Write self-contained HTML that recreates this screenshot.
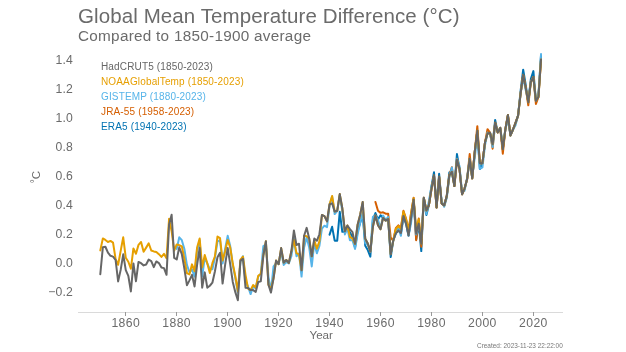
<!DOCTYPE html>
<html><head><meta charset="utf-8"><style>
html,body{margin:0;padding:0;background:#fff;}
body{width:626px;height:352px;position:relative;overflow:hidden;font-family:"Liberation Sans",sans-serif;color:#666;}
#w{position:absolute;left:0;top:0;width:626px;height:352px;will-change:transform;}
.t{position:absolute;left:78px;top:4px;font-size:20.5px;color:#6b6b6b;white-space:nowrap;letter-spacing:0.1px;}
.st{position:absolute;left:78px;top:27.2px;font-size:15.3px;letter-spacing:0.27px;color:#6b6b6b;white-space:nowrap;}
.yl{position:absolute;left:30px;width:43px;text-align:right;font-size:12.2px;line-height:14px;color:#6b6b6b;letter-spacing:0.2px;}
.xl{position:absolute;top:316px;width:40px;text-align:center;font-size:12.2px;line-height:14px;color:#6b6b6b;letter-spacing:0.4px;}
.xt{position:absolute;top:312px;width:1px;height:4px;background:#999;}
.ax{position:absolute;left:78px;top:312px;width:485px;height:1px;background:#dadada;}
.yt{position:absolute;left:25.2px;top:170px;width:20px;height:14px;font-size:11.6px;line-height:14px;color:#6b6b6b;transform:rotate(-90deg);text-align:center;}
.xtitle{position:absolute;left:309.5px;top:328px;font-size:11.6px;color:#6b6b6b;}
.cr{position:absolute;left:477px;top:342px;font-size:6.45px;color:#777;white-space:nowrap;}
.lg{position:absolute;left:101px;font-size:10px;line-height:13px;letter-spacing:0.15px;white-space:nowrap;}
svg{position:absolute;left:0;top:0;}
svg path{fill:none;stroke-width:2;stroke-linejoin:round;stroke-linecap:round;}
</style></head><body><div id="w">
<div class="t">Global Mean Temperature Difference (°C)</div>
<div class="st">Compared to 1850-1900 average</div>
<div class="yl" style="top:285.3px">−0.2</div>
<div class="yl" style="top:256.2px">0.0</div>
<div class="yl" style="top:227.1px">0.2</div>
<div class="yl" style="top:198.0px">0.4</div>
<div class="yl" style="top:168.9px">0.6</div>
<div class="yl" style="top:139.8px">0.8</div>
<div class="yl" style="top:110.7px">1.0</div>
<div class="yl" style="top:81.6px">1.2</div>
<div class="yl" style="top:52.5px">1.4</div>

<div class="yt"><span style="font-size:10px;vertical-align:1.5px">°</span>C</div>
<div class="ax"></div>
<div class="xl" style="left:105.8px">1860</div>
<div class="xt" style="left:125.3px"></div>
<div class="xl" style="left:156.7px">1880</div>
<div class="xt" style="left:176.2px"></div>
<div class="xl" style="left:207.7px">1900</div>
<div class="xt" style="left:227.2px"></div>
<div class="xl" style="left:258.6px">1920</div>
<div class="xt" style="left:278.1px"></div>
<div class="xl" style="left:309.6px">1940</div>
<div class="xt" style="left:329.1px"></div>
<div class="xl" style="left:360.5px">1960</div>
<div class="xt" style="left:380.0px"></div>
<div class="xl" style="left:411.5px">1980</div>
<div class="xt" style="left:431.0px"></div>
<div class="xl" style="left:462.4px">2000</div>
<div class="xt" style="left:481.9px"></div>
<div class="xl" style="left:513.4px">2020</div>
<div class="xt" style="left:532.9px"></div>

<div class="xtitle">Year</div>
<div class="cr">Created: 2023-11-23 22:22:00</div>
<div class="lg" style="top:60px;color:#666666">HadCRUT5 (1850-2023)</div>
<div class="lg" style="top:74.8px;color:#E69F00">NOAAGlobalTemp (1850-2023)</div>
<div class="lg" style="top:89.5px;color:#56B4E9">GISTEMP (1880-2023)</div>
<div class="lg" style="top:104.9px;color:#D55E00">JRA-55 (1958-2023)</div>
<div class="lg" style="top:119.6px;color:#0072B2">ERA5 (1940-2023)</div>
<svg width="626" height="352" viewBox="0 0 626 352">
<path d="M329.57,234.68 L332.12,226.82 L334.67,240.65 L337.22,240.65 L339.76,211.84 L342.31,231.77 L344.86,231.77 L347.41,226.82 L349.95,232.64 L352.50,236.72 L355.05,247.63 L357.60,231.19 L360.14,222.90 L362.69,215.19 L365.24,245.74 L367.79,250.10 L370.33,256.65 L372.88,219.55 L375.43,213.00 L377.98,219.55 L380.52,215.19 L383.07,217.95 L385.62,220.57 L388.17,219.11 L390.71,257.09 L393.26,240.50 L395.81,233.37 L398.36,230.46 L400.90,233.08 L403.45,215.91 L406.00,223.62 L408.55,235.55 L411.09,217.95 L413.64,199.62 L416.19,239.48 L418.74,223.62 L421.28,251.12 L423.83,197.87 L426.38,214.89 L428.93,205.00 L431.48,186.08 L434.02,172.26 L436.57,207.47 L439.12,173.72 L441.67,203.40 L444.21,205.44 L446.76,196.12 L449.31,172.55 L451.86,171.83 L454.40,186.08 L456.95,154.07 L459.50,168.77 L462.05,194.23 L464.59,188.56 L467.14,179.10 L469.69,158.73 L472.24,178.37 L474.78,151.60 L477.33,130.50 L479.88,169.06 L482.43,163.24 L484.97,142.58 L487.52,133.56 L490.07,132.83 L492.62,144.33 L495.16,119.88 L497.71,132.40 L500.26,127.88 L502.81,149.27 L505.35,129.49 L507.90,115.08 L510.45,135.45 L513.00,129.49 L515.54,122.79 L518.09,115.66 L520.64,90.49 L523.18,69.68 L525.73,84.96 L528.28,102.42 L530.83,79.14 L533.38,71.14 L535.92,100.97 L538.47,95.44 L541.02,55.43" stroke="#0072B2"/>
<path d="M375.43,201.94 L377.98,210.82 L380.52,212.86 L383.07,212.27 L385.62,213.73 L388.17,213.73 L390.71,237.74 L393.26,240.50 L395.81,228.28 L398.36,225.37 L400.90,227.99 L403.45,210.82 L406.00,218.53 L408.55,230.46 L411.09,212.86 L413.64,197.72 L416.19,240.21 L418.74,218.53 L421.28,246.76 L423.83,197.87 L426.38,210.53 L428.93,205.00 L431.48,189.00 L434.02,175.61 L436.57,207.47 L439.12,176.63 L441.67,203.40 L444.21,205.44 L446.76,196.12 L449.31,175.46 L451.86,167.17 L454.40,186.08 L456.95,159.60 L459.50,168.77 L462.05,194.23 L464.59,188.56 L467.14,179.10 L469.69,154.07 L472.24,178.37 L474.78,151.60 L477.33,126.14 L479.88,163.24 L482.43,163.24 L484.97,142.58 L487.52,129.19 L490.07,132.83 L492.62,148.69 L495.16,122.79 L497.71,132.40 L500.26,127.88 L502.81,153.64 L505.35,129.49 L507.90,115.08 L510.45,135.45 L513.00,129.49 L515.54,122.79 L518.09,115.66 L520.64,93.40 L523.18,75.50 L525.73,87.87 L528.28,105.33 L530.83,82.05 L533.38,76.96 L535.92,103.88 L538.47,96.89 L541.02,59.50" stroke="#D55E00"/>
<path d="M176.72,248.94 L179.27,237.30 L181.82,240.21 L184.37,248.94 L186.91,264.95 L189.46,272.22 L192.01,269.31 L194.56,276.59 L197.10,250.40 L199.65,240.21 L202.20,276.59 L204.75,257.67 L207.29,263.49 L209.84,269.31 L212.39,269.31 L214.94,257.67 L217.48,241.67 L220.03,240.21 L222.58,263.49 L225.13,248.94 L227.68,235.85 L230.22,246.03 L232.77,264.95 L235.32,278.04 L237.87,292.59 L240.41,262.04 L242.96,256.22 L245.51,280.95 L248.06,286.77 L250.60,294.05 L253.15,286.77 L255.70,288.23 L258.25,276.59 L260.79,273.68 L263.34,246.03 L265.89,244.58 L268.44,276.59 L270.98,291.14 L273.53,266.40 L276.08,263.49 L278.62,263.49 L281.17,251.85 L283.72,264.95 L286.27,262.04 L288.81,263.49 L291.36,256.22 L293.91,238.76 L296.46,256.22 L299.00,253.31 L301.55,276.59 L304.10,247.49 L306.65,237.30 L309.19,247.49 L311.74,266.40 L314.29,243.12 L316.84,253.31 L319.38,246.03 L321.93,228.57 L324.48,225.66 L327.03,227.12 L329.57,205.29 L332.12,196.56 L334.67,214.02 L337.22,211.11 L339.76,195.11 L342.31,211.11 L344.86,234.39 L347.41,228.57 L349.95,240.21 L352.50,240.21 L355.05,248.94 L357.60,234.39 L360.14,222.75 L362.69,212.57 L365.24,243.12 L367.79,244.58 L370.33,251.85 L372.88,216.93 L375.43,215.48 L377.98,219.84 L380.52,228.57 L383.07,215.48 L385.62,219.84 L388.17,216.93 L390.71,253.31 L393.26,240.21 L395.81,232.94 L398.36,227.12 L400.90,235.85 L403.45,216.93 L406.00,219.84 L408.55,235.85 L411.09,222.75 L413.64,200.93 L416.19,234.39 L418.74,225.66 L421.28,238.76 L423.83,198.02 L426.38,214.02 L428.93,200.93 L431.48,186.38 L434.02,177.65 L436.57,203.84 L439.12,179.10 L441.67,200.93 L444.21,206.75 L446.76,198.02 L449.31,177.65 L451.86,167.46 L454.40,184.92 L456.95,158.73 L459.50,166.01 L462.05,192.20 L464.59,190.74 L467.14,177.65 L469.69,158.73 L472.24,176.19 L474.78,157.28 L477.33,135.45 L479.88,168.92 L482.43,167.46 L484.97,145.64 L487.52,132.54 L490.07,134.00 L492.62,147.09 L495.16,125.27 L497.71,131.09 L500.26,128.18 L502.81,145.64 L505.35,129.63 L507.90,119.45 L510.45,135.45 L513.00,129.63 L515.54,125.27 L518.09,115.08 L520.64,93.26 L523.18,77.25 L525.73,90.35 L528.28,100.53 L530.83,81.62 L533.38,77.25 L535.92,100.53 L538.47,94.71 L541.02,53.97" stroke="#56B4E9"/>
<path d="M100.30,250.40 L102.85,238.46 L105.39,239.92 L107.94,241.96 L110.49,240.94 L113.04,242.54 L115.58,258.83 L118.13,264.80 L120.68,250.83 L123.23,237.30 L125.77,257.82 L128.32,261.75 L130.87,268.73 L133.42,248.50 L135.97,253.74 L138.51,244.87 L141.06,241.96 L143.61,251.85 L146.16,247.63 L148.70,243.27 L151.25,250.54 L153.80,251.41 L156.34,252.00 L158.89,254.18 L161.44,256.94 L163.99,253.89 L166.53,258.25 L169.08,218.82 L171.63,231.19 L174.18,250.69 L176.72,244.43 L179.27,245.16 L181.82,246.32 L184.37,258.83 L186.91,273.09 L189.46,274.40 L192.01,264.36 L194.56,271.20 L197.10,247.49 L199.65,238.46 L202.20,267.42 L204.75,255.05 L207.29,263.20 L209.84,273.09 L212.39,263.20 L214.94,256.22 L217.48,236.57 L220.03,238.17 L222.58,260.58 L225.13,251.27 L227.68,240.07 L230.22,247.49 L232.77,263.78 L235.32,276.29 L237.87,291.43 L240.41,259.56 L242.96,256.65 L245.51,274.84 L248.06,288.66 L250.60,290.12 L253.15,285.02 L255.70,287.64 L258.25,275.71 L260.79,273.82 L263.34,255.63 L265.89,241.23 L268.44,284.73 L270.98,289.39 L273.53,278.33 L276.08,260.58 L278.62,264.22 L281.17,248.07 L283.72,262.47 L286.27,260.00 L288.81,262.91 L291.36,251.27 L293.91,239.92 L296.46,253.01 L299.00,254.47 L301.55,270.18 L304.10,235.70 L306.65,236.14 L309.19,238.46 L311.74,256.36 L314.29,239.92 L316.84,248.65 L319.38,241.38 L321.93,215.04 L324.48,216.06 L327.03,221.44 L329.57,204.27 L332.12,195.98 L334.67,211.40 L337.22,210.82 L339.76,194.09 L342.31,208.20 L344.86,231.19 L347.41,225.52 L349.95,237.01 L352.50,238.46 L355.05,243.85 L357.60,224.64 L360.14,214.89 L362.69,201.94 L365.24,238.61 L367.79,243.56 L370.33,251.56 L372.88,226.82 L375.43,215.48 L377.98,225.22 L380.52,229.30 L383.07,217.95 L385.62,220.57 L388.17,219.11 L390.71,254.18 L393.26,240.50 L395.81,229.01 L398.36,226.10 L400.90,228.72 L403.45,211.55 L406.00,219.26 L408.55,231.19 L411.09,213.58 L413.64,198.16 L416.19,229.30 L418.74,219.26 L421.28,243.85 L423.83,197.87 L426.38,210.53 L428.93,205.00 L431.48,189.00 L434.02,175.61 L436.57,207.47 L439.12,176.63 L441.67,203.40 L444.21,205.44 L446.76,196.12 L449.31,175.46 L451.86,171.83 L454.40,186.08 L456.95,159.60 L459.50,168.77 L462.05,194.23 L464.59,188.56 L467.14,179.10 L469.69,158.73 L472.24,178.37 L474.78,151.60 L477.33,130.50 L479.88,163.24 L482.43,163.24 L484.97,142.58 L487.52,133.56 L490.07,132.83 L492.62,144.33 L495.16,122.79 L497.71,132.40 L500.26,127.88 L502.81,149.27 L505.35,129.49 L507.90,115.08 L510.45,135.45 L513.00,129.49 L515.54,122.79 L518.09,115.66 L520.64,93.40 L523.18,74.78 L525.73,87.87 L528.28,102.42 L530.83,82.05 L533.38,76.96 L535.92,100.97 L538.47,96.89 L541.02,59.50" stroke="#E69F00"/>
<path d="M100.30,274.26 L102.85,247.34 L105.39,246.76 L107.94,252.72 L110.49,255.78 L113.04,256.65 L115.58,260.00 L118.13,281.39 L120.68,269.89 L123.23,254.32 L125.77,270.18 L128.32,275.86 L130.87,291.43 L133.42,263.49 L135.97,281.24 L138.51,261.89 L141.06,263.20 L143.61,265.38 L146.16,264.51 L148.70,259.56 L151.25,261.02 L153.80,267.13 L156.34,261.45 L158.89,263.05 L161.44,267.56 L163.99,268.15 L166.53,274.84 L169.08,224.50 L171.63,214.75 L174.18,257.96 L176.72,259.42 L179.27,247.34 L181.82,254.18 L184.37,268.58 L186.91,285.17 L189.46,280.37 L192.01,274.84 L194.56,286.48 L197.10,264.80 L199.65,247.92 L202.20,287.64 L204.75,272.37 L207.29,287.64 L209.84,285.75 L212.39,282.70 L214.94,271.20 L217.48,257.23 L220.03,252.72 L222.58,283.57 L225.13,264.95 L227.68,247.92 L230.22,264.36 L232.77,281.97 L235.32,292.15 L237.87,300.30 L240.41,260.58 L242.96,258.83 L245.51,287.64 L248.06,287.94 L250.60,290.12 L253.15,290.12 L255.70,292.01 L258.25,281.97 L260.79,281.39 L263.34,255.63 L265.89,241.23 L268.44,284.73 L270.98,292.59 L273.53,278.33 L276.08,260.58 L278.62,264.22 L281.17,248.07 L283.72,262.47 L286.27,260.00 L288.81,262.91 L291.36,251.27 L293.91,230.46 L296.46,245.01 L299.00,243.70 L301.55,270.18 L304.10,235.70 L306.65,227.84 L309.19,238.46 L311.74,256.36 L314.29,238.61 L316.84,240.79 L319.38,234.25 L321.93,215.04 L324.48,216.06 L327.03,221.44 L329.57,204.27 L332.12,203.40 L334.67,211.40 L337.22,210.82 L339.76,194.09 L342.31,208.20 L344.86,231.19 L347.41,225.52 L349.95,229.15 L352.50,232.21 L355.05,243.85 L357.60,224.64 L360.14,214.89 L362.69,201.94 L365.24,238.61 L367.79,243.56 L370.33,251.56 L372.88,226.82 L375.43,215.48 L377.98,225.22 L380.52,229.30 L383.07,217.95 L385.62,220.57 L388.17,219.11 L390.71,254.18 L393.26,240.50 L395.81,233.37 L398.36,230.46 L400.90,233.08 L403.45,215.91 L406.00,223.62 L408.55,235.55 L411.09,217.95 L413.64,199.62 L416.19,233.66 L418.74,223.62 L421.28,243.85 L423.83,197.87 L426.38,210.53 L428.93,205.00 L431.48,189.00 L434.02,175.61 L436.57,207.47 L439.12,176.63 L441.67,203.40 L444.21,205.44 L446.76,196.12 L449.31,175.46 L451.86,171.83 L454.40,186.08 L456.95,159.60 L459.50,168.77 L462.05,194.23 L464.59,188.56 L467.14,179.10 L469.69,158.73 L472.24,178.37 L474.78,151.60 L477.33,130.50 L479.88,163.24 L482.43,163.24 L484.97,142.58 L487.52,133.56 L490.07,132.83 L492.62,144.33 L495.16,122.79 L497.71,132.40 L500.26,127.88 L502.81,149.27 L505.35,129.49 L507.90,115.08 L510.45,135.45 L513.00,129.49 L515.54,122.79 L518.09,115.66 L520.64,93.40 L523.18,74.78 L525.73,87.87 L528.28,102.42 L530.83,82.05 L533.38,76.96 L535.92,100.97 L538.47,96.89 L541.02,59.50" stroke="#666666"/>
</svg>
</div></body></html>
